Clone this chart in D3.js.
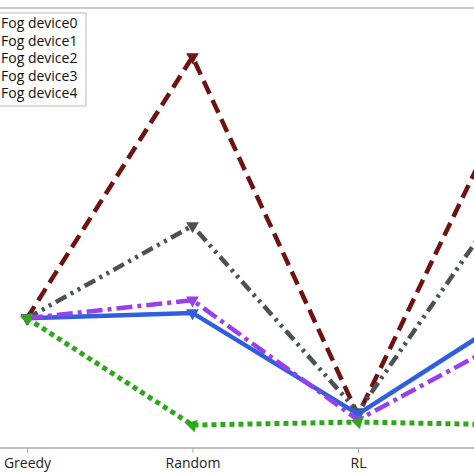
<!DOCTYPE html><html><head><meta charset="utf-8"><script src="https://cdn.jsdelivr.net/npm/d3@7"></script>
<style>body{margin:0;background:#fff}svg{display:block}</style></head><body><svg id="c" width="474" height="474"></svg>
<script>
const categories=["Greedy","Random","RL","DRL"];
const seriesNames=["Fog device0","Fog device1","Fog device2","Fog device3","Fog device4"];
const device0=[29.5,88.9,7.5,85.7];
const device1=[29.5,50.5,8.2,62.5];
const device2=[29.5,30.7,7.7,31.8];
const device3=[29.5,33.6,6.4,26.6];
const device4=[29.5,5.2,5.9,5.2];
const values=[device0,device1,device2,device3,device4];
const colors=["#6e1212","#4b5251","#2f5fe0","#9a3ff0","#2ea81a"];
const dashes=["14,7","12,5,3,5,3,5","none","16,5,4,5","5,4"];
const svg=d3.select("#c");
const x=d3.scalePoint().domain(categories).range([27,523.5]);
const y=d3.scaleLinear().domain([0,100]).range([448,8]);
svg.append("line").attr("x1",0).attr("x2",474).attr("y1",8).attr("y2",8).attr("stroke","#bbb").attr("stroke-width",1.5);
const ax=svg.append("g").attr("transform","translate(0,448)").call(d3.axisBottom(x).tickSize(5).tickPadding(5).tickSizeOuter(0).tickFormat(d=>x(d)>474?"":d));
ax.select(".domain").attr("stroke","#aaa").attr("stroke-width",1.5).attr("d","M0,0H474");
ax.selectAll(".tick line").attr("stroke","#aaa");
ax.selectAll("text").attr("font-family","Open Sans, sans-serif").attr("font-size",14).attr("fill","#222");
const line=d3.line().x((d,i)=>x(categories[i])).y(d=>y(d));
values.forEach((s,k)=>{
  svg.append("path").attr("d",line(s)).attr("fill","none").attr("stroke",colors[k]).attr("stroke-width",k==4?5:4.5).attr("stroke-dasharray",dashes[k]);
  svg.selectAll(null).data(s).enter().append("path").attr("d",d3.symbol(d3.symbolTriangle,70)())
   .attr("transform",(d,i)=>`translate(${x(categories[i])},${y(d)}) rotate(${k==4?45:180})`).attr("fill",colors[k]);
});
const lg=svg.append("g");
lg.append("rect").attr("x",-1).attr("y",13).attr("width",87).attr("height",93).attr("fill","#fff").attr("stroke","#bbb");
seriesNames.forEach((n,i)=>lg.append("text").attr("x",1).attr("y",28+i*17.5).text(n).attr("font-family","Open Sans, sans-serif").attr("font-size",14).attr("fill","#111"));
</script></body></html>
